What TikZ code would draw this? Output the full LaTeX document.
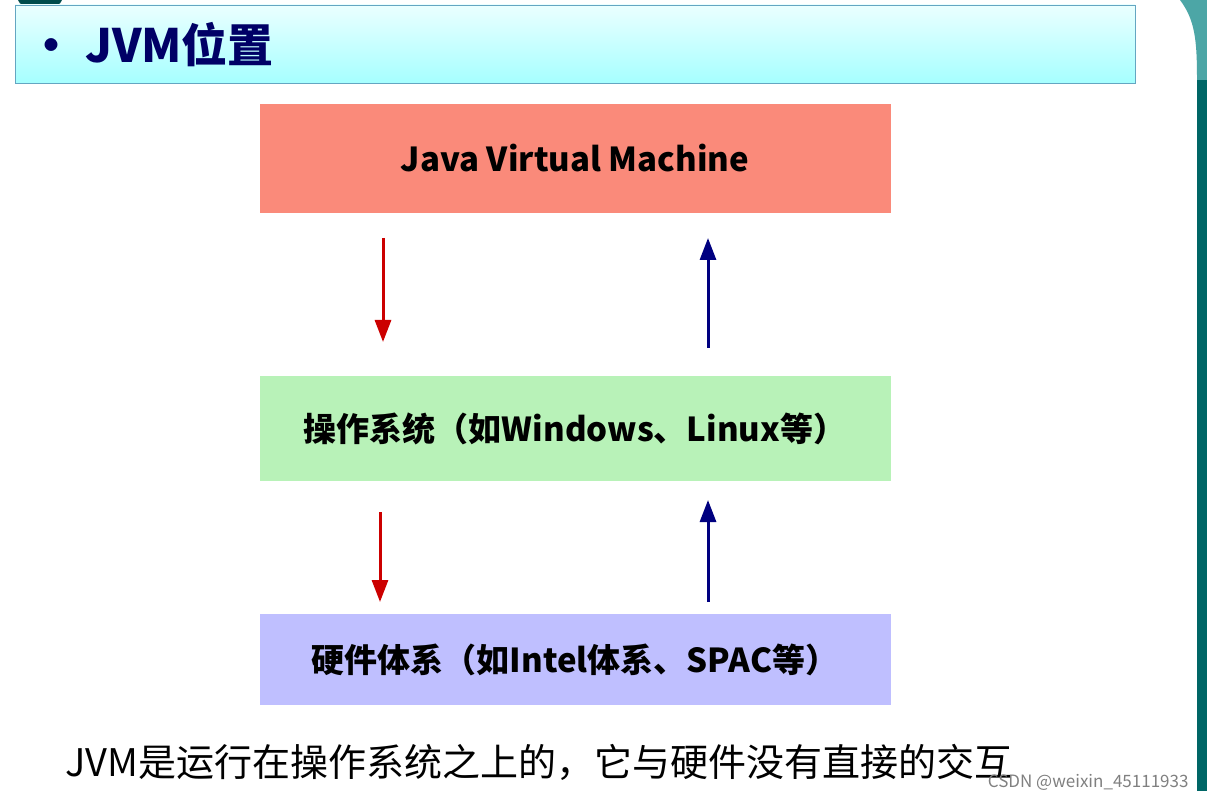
\documentclass[tikz,border=0pt]{standalone}
\usepackage{fontspec}
\setmainfont{Noto Sans CJK SC}
\newfontfamily\cjk{Noto Sans CJK SC}
\begin{document}
\begin{tikzpicture}[x=1pt,y=-1pt,
  layer/.style={minimum width=631pt,inner sep=0pt,font=\fontsize{33}{38}\selectfont\bfseries},
  dn/.style={draw=red!80!black,line width=3pt,-{Triangle[width=16pt,length=22pt]}},
  up/.style={draw=blue!50!black,line width=3pt,-{Triangle[width=16pt,length=22pt]}}]
\usetikzlibrary{arrows.meta}
\useasboundingbox (0,0) rectangle (1207,791);
\fill[white] (0,0) rectangle (1207,791);
\fill[teal!80!black] (1197,0) rectangle (1207,791);
\fill[teal!70] (1180,0) .. controls (1195,20) and (1197,40) .. (1197,80) -- (1207,80) -- (1207,0) -- cycle;
\fill[teal!60!black] (62,0) arc (0:180:22 and 8) -- cycle;
\shade[top color=cyan!8,bottom color=cyan!35,draw=cyan!50!gray] (15,5) rectangle (1135,83);
\node[anchor=west,text=blue!40!black,font=\fontsize{46}{50}\selectfont\bfseries] (title) at (25,45) {•\ JVM位置};
\node[layer,fill={rgb,255:red,250;green,138;blue,122},minimum height=109pt] (jvm) at (575,158.5) {Java Virtual Machine};
\node[layer,fill={rgb,255:red,184;green,242;blue,184},minimum height=105pt] (os) at (575,428.5) {操作系统（如Windows、Linux等）};
\node[layer,fill={rgb,255:red,191;green,191;blue,255},minimum height=91pt] (hw) at (575,659.5) {硬件体系（如Intel体系、SPAC等）};
\coordinate (a1) at (383,238); \coordinate (a2) at (383,342);
\coordinate (b1) at (708,348); \coordinate (b2) at (708,238);
\coordinate (c1) at (380,512); \coordinate (c2) at (380,602);
\coordinate (d1) at (708,602); \coordinate (d2) at (708,500);
\draw[dn] (a1) -- (a2);
\draw[up] (b1) -- (b2);
\draw[dn] (c1) -- (c2);
\draw[up] (d1) -- (d2);
\node[anchor=west,font=\fontsize{38}{42}\selectfont] (note) at (62,762) {JVM是运行在操作系统之上的，它与硬件没有直接的交互};
\node[anchor=east,text=gray,font=\fontsize{17}{20}\selectfont] (wm) at (1192,782) {CSDN @weixin\_45111933};
\end{tikzpicture}
\end{document}
